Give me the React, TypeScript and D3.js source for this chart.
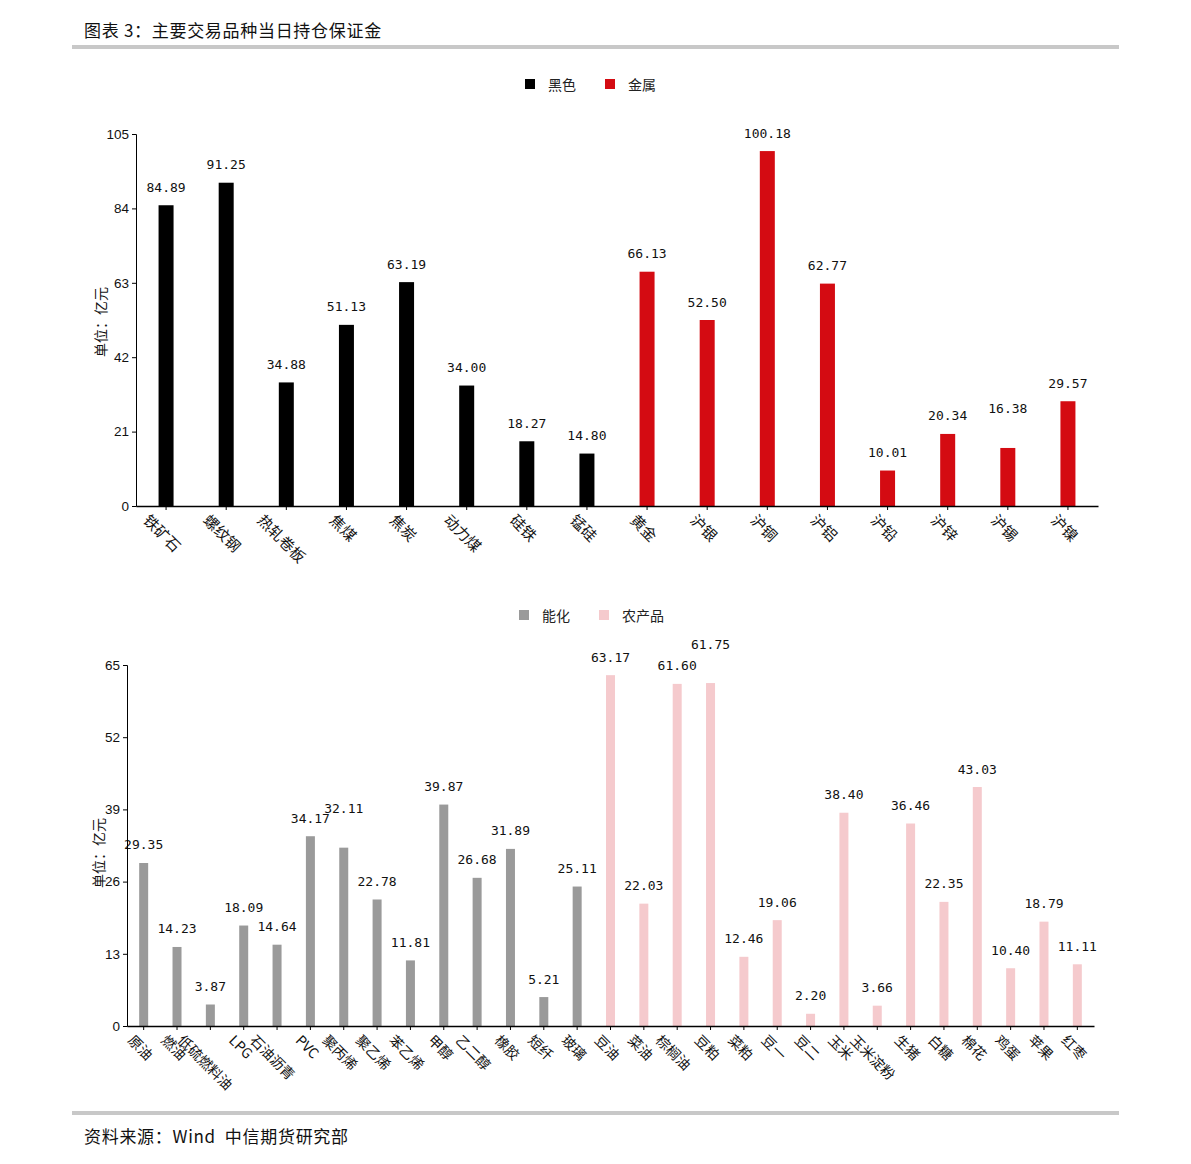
import React, { useEffect, useRef } from 'react';
import * as d3 from 'd3';

const blackCats = ['铁矿石', '螺纹钢', '热轧卷板', '焦煤', '焦炭', '动力煤', '硅铁', '锰硅'];
const blackVals = [84.89, 91.25, 34.88, 51.13, 63.19, 34.0, 18.27, 14.8];
const metalCats = ['黄金', '沪银', '沪铜', '沪铝', '沪铅', '沪锌', '沪锡', '沪镍'];
const metalVals = [66.13, 52.5, 100.18, 62.77, 10.01, 20.34, 16.38, 29.57];

const energyCats = ['原油', '燃油', '低硫燃料油', 'LPG', '石油沥青', 'PVC', '聚丙烯', '聚乙烯', '苯乙烯', '甲醇', '乙二醇', '橡胶', '短纤', '玻璃'];
const energyVals = [29.35, 14.23, 3.87, 18.09, 14.64, 34.17, 32.11, 22.78, 11.81, 39.87, 26.68, 31.89, 5.21, 25.11];
const agriCats = ['豆油', '菜油', '棕榈油', '豆粕', '菜粕', '豆一', '豆二', '玉米', '玉米淀粉', '生猪', '白糖', '棉花', '鸡蛋', '苹果', '红枣'];
const agriVals = [63.17, 22.03, 61.6, 61.75, 12.46, 19.06, 2.2, 38.4, 3.66, 36.46, 22.35, 43.03, 10.4, 18.79, 11.11];

const topTicks = [0, 21, 42, 63, 84, 105];
const bottomTicks = [0, 13, 26, 39, 52, 65];

// labels lifted above a neighbour
const raisedLabels = ['沪锡', '豆粕', '聚丙烯'];

const FONT = '"Liberation Sans", Arial, "Noto Sans CJK SC", sans-serif';
const CJK = '"Noto Sans CJK SC", "Liberation Sans", sans-serif';
const NUM = '"DejaVu Sans Mono", monospace';

function drawPanel(svg, opts) {
  const { groups, ticks, x0, x1, yTop, yBottom, barW, legendY, legendX, fs, unitX, unitY } = opts;
  const rows = [];
  groups.forEach(g => g.cats.forEach((c, i) => rows.push({ cat: c, val: g.vals[i], color: g.color })));

  const x = d3.scaleBand().domain(rows.map(d => d.cat)).range([x0, x1]).padding(0);
  const y = d3.scaleLinear().domain([0, ticks[ticks.length - 1]]).range([yBottom, yTop]);

  // legend
  let lx = legendX;
  groups.forEach(g => {
    svg.append('rect').attr('x', lx).attr('y', legendY - 5).attr('width', 10).attr('height', 10).attr('fill', g.color);
    svg.append('text').attr('x', lx + 23).attr('y', legendY).attr('dominant-baseline', 'central')
      .style('font-family', CJK).style('font-size', '14px').attr('fill', '#222').text(g.name);
    lx += 80;
  });

  // bars
  svg.selectAll(null).data(rows).enter().append('rect')
    .attr('x', d => x(d.cat) + x.bandwidth() / 2 - barW / 2)
    .attr('y', d => y(d.val))
    .attr('width', barW)
    .attr('height', d => y(0) - y(d.val))
    .attr('fill', d => d.color);

  // value labels
  svg.selectAll(null).data(rows).enter().append('text')
    .attr('x', d => x(d.cat) + x.bandwidth() / 2)
    .attr('y', d => y(d.val) - (raisedLabels.includes(d.cat) ? 39 : 18))
    .attr('text-anchor', 'middle').attr('dominant-baseline', 'central')
    .style('font-family', NUM).style('font-size', '13px').attr('fill', '#111')
    .text(d => d.val.toFixed(2));

  // y axis
  const ya = svg.append('g').attr('transform', `translate(${x0},0)`)
    .call(d3.axisLeft(y).tickValues(ticks).tickSize(4).tickPadding(3));
  ya.select('.domain').attr('stroke', '#000');
  ya.selectAll('line').attr('stroke', '#000');
  ya.selectAll('text').style('font-family', FONT).style('font-size', '13.5px').attr('fill', '#111');

  // x axis
  const xa = svg.append('g').attr('transform', `translate(0,${yBottom})`)
    .call(d3.axisBottom(x).tickSize(4).tickSizeOuter(0).tickFormat(() => ''));
  xa.select('.domain').attr('stroke', '#000').attr('stroke-width', 1.5);
  xa.selectAll('line').attr('stroke', '#000');

  // rotated category labels
  svg.selectAll(null).data(rows).enter().append('text')
    .attr('transform', d => {
      const n = /^[A-Z]+$/.test(d.cat) ? d.cat.length * 0.6 : d.cat.length;
      const cx = x(d.cat) + x.bandwidth() / 2 - (n - 1) * fs * 0.4 - 2;
      return `translate(${cx - fs * 0.35},${yBottom + 16 - fs * 0.35}) rotate(45)`;
    })
    .attr('text-anchor', 'start').attr('dominant-baseline', 'central')
    .style('font-family', CJK).style('font-size', `${fs}px`).attr('fill', '#111')
    .text(d => d.cat);

  // unit
  svg.append('text')
    .attr('transform', `translate(${unitX},${unitY}) rotate(-90)`)
    .attr('text-anchor', 'middle').attr('dominant-baseline', 'central')
    .style('font-family', CJK).style('font-size', '14px').attr('fill', '#111')
    .text('单位：亿元');
}

function App() {
  const svgRef = useRef(null);

  useEffect(() => {
    const svg = d3.select(svgRef.current);
    svg.selectAll('*').remove();

    svg.append('rect').attr('width', 1191).attr('height', 1164).attr('fill', '#fff');

    // header
    svg.append('text').attr('x', 84).attr('y', 29).attr('dominant-baseline', 'central')
      .style('font-family', CJK).style('font-size', '17px').style('letter-spacing', '0.7px').attr('fill', '#111')
      .text('图表 3：主要交易品种当日持仓保证金');
    svg.append('rect').attr('x', 72).attr('y', 45).attr('width', 1047).attr('height', 4).attr('fill', '#c8c8c8');

    drawPanel(svg, {
      groups: [
        { name: '黑色', cats: blackCats, vals: blackVals, color: '#000000' },
        { name: '金属', cats: metalCats, vals: metalVals, color: '#d40b12' },
      ],
      ticks: topTicks, x0: 136, x1: 1098, yTop: 134, yBottom: 506, barW: 15,
      legendY: 84, legendX: 525, fs: 15, unitX: 100, unitY: 322,
    });

    drawPanel(svg, {
      groups: [
        { name: '能化', cats: energyCats, vals: energyVals, color: '#9a9a9a' },
        { name: '农产品', cats: agriCats, vals: agriVals, color: '#f5cacd' },
      ],
      ticks: bottomTicks, x0: 127, x1: 1094, yTop: 665, yBottom: 1026, barW: 9,
      legendY: 615, legendX: 519, fs: 14, unitX: 98, unitY: 853,
    });

    // footer
    svg.append('rect').attr('x', 72).attr('y', 1111).attr('width', 1047).attr('height', 4).attr('fill', '#c8c8c8');
    svg.append('text').attr('x', 84).attr('y', 1135).attr('dominant-baseline', 'central')
      .style('font-family', CJK).style('font-size', '17px').style('letter-spacing', '0.7px')
      .style('white-space', 'pre').attr('fill', '#111')
      .text('资料来源：Wind  中信期货研究部');
  }, []);

  return (
    <svg ref={svgRef} width={1191} height={1164}
      style={{ position: 'absolute', left: 0, top: 0, display: 'block' }}></svg>
  );
}

export default App;
